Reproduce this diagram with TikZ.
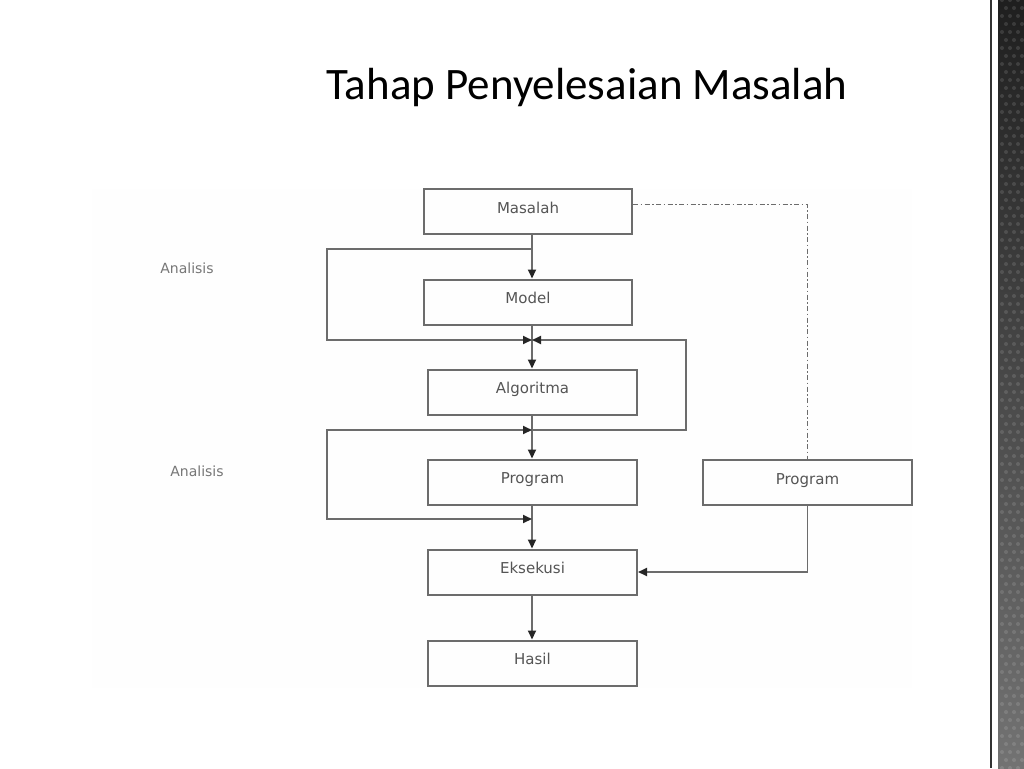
\documentclass[tikz,border=0pt]{standalone}
\usepackage{fontspec}
\setmainfont{Carlito}
\newfontfamily\boxfont{DejaVu Sans}
\definecolor{linegray}{RGB}{108, 108, 108}
\definecolor{textgray}{RGB}{85, 85, 85}
\definecolor{panelfill}{RGB}{254, 254, 254}
\usetikzlibrary{arrows.meta}
\tikzset{
    stepbox/.style={draw=linegray, line width=2pt, minimum width=208pt,
        minimum height=45pt, inner sep=0pt, text=textgray,
        font=\boxfont\fontsize{15}{18}\selectfont, text height=11pt,
        text depth=8pt},
    sidelabel/.style={text=textgray!80,
        font=\boxfont\fontsize{14}{17}\selectfont},
    link/.style={draw=linegray, line width=1.8pt},
    flow/.style={link, ->},
    dashlink/.style={draw=linegray, line width=1.6pt,
        dash pattern=on 5pt off 2.5pt on 1.5pt off 2.5pt},
}

\begin{document}
\begin{tikzpicture}[x=1pt, y=-1pt,
        >={Triangle[length=9pt, width=8pt, color=black!85]}]
    \useasboundingbox (0, 0) rectangle (1024, 768);
    \fill[white] (0, 0) rectangle (1024, 768);
    \fill[panelfill] (92, 189) rectangle (912, 688);

    % right edge of the slide
    \draw[black!80, line width=2.5pt] (991, 0) -- (991, 768);
    \shade[top color=black!88, bottom color=black!55] (998, 0) rectangle (1024, 768);
    \foreach \y in {0, 16, ..., 768} {
        \foreach \x in {1002, 1010, 1018} {
            \fill[white, opacity=0.12] (\x, \y) circle (2pt);
            \fill[white, opacity=0.12] (\x + 4, \y + 8) circle (2pt);
        }
    }

    \node[anchor=base] (title) at (587, 99)
        {\fontsize{45}{54}\selectfont Tahap Penyelesaian Masalah};

    \coordinate (spine) at (532, 0);
    \coordinate (wl) at (327, 0);
    \coordinate (wr) at (686, 0);
    \coordinate (jA) at (532, 249);
    \coordinate (jB) at (532, 340);
    \coordinate (jC) at (532, 430);
    \coordinate (jD) at (532, 519);

    \node[stepbox] (masalah) at (528, 211.5) {Masalah};
    \node[stepbox] (model) at (528, 302) {Model};
    \node[stepbox, minimum width=209pt] (algoritma) at (532.5, 392) {Algoritma};
    \node[stepbox, minimum width=209pt] (program) at (532.5, 482) {Program};
    \node[stepbox, minimum width=209pt] (eksekusi) at (532.5, 572) {Eksekusi};
    \node[stepbox, minimum width=209pt] (hasil) at (532.5, 663) {Hasil};
    \node[stepbox, minimum width=209pt] (program2) at (807.5, 482.5) {Program};

    \node[sidelabel] (analisis1) at (187, 268) {Analisis};
    \node[sidelabel] (analisis2) at (197, 471) {Analisis};

    % main line
    \draw[flow] (masalah.south -| spine) -- (model.north -| spine);
    \draw[flow] (model.south -| spine) -- (algoritma.north -| spine);
    \draw[flow] (algoritma.south -| spine) -- (program.north -| spine);
    \draw[flow] (program.south -| spine) -- (eksekusi.north -| spine);
    \draw[flow] (eksekusi.south -| spine) -- (hasil.north -| spine);

    % loops
    \draw[flow] (jA) -- (jA -| wl) -- (jB -| wl) -- (jB);
    \draw[flow] (jC) -- (jC -| wr) -- (jB -| wr) -- (jB);
    \draw[link, <->] (jC) -- (jC -| wl) -- (jD -| wl) -- (jD);

    % side program
    \draw[flow] (program2.south) |- (eksekusi.east);
    \draw[dashlink] ([yshift=7pt]masalah.east) -| (program2.north);
\end{tikzpicture}
\end{document}
